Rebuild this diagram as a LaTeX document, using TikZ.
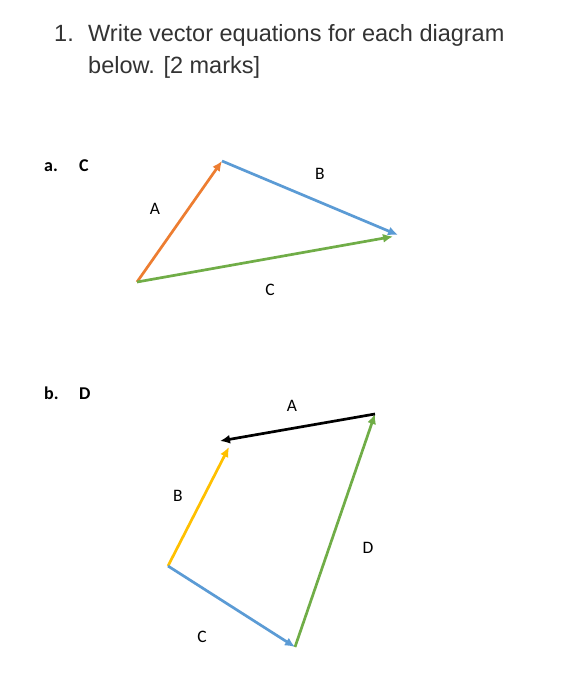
\documentclass[tikz,border=0pt]{standalone}
\usepackage{fontspec}
\setmainfont{Liberation Sans}
\newfontfamily\calib{Carlito}
\usetikzlibrary{arrows.meta}
\definecolor{vorange}{HTML}{ED7D31}
\definecolor{vblue}{HTML}{5B9BD5}
\definecolor{vgreen}{HTML}{70AD47}
\definecolor{vyellow}{HTML}{FFC000}
\definecolor{txtgray}{HTML}{333333}
\tikzset{
  vec/.style={line width=2.7pt,-{Latex[length=10pt,width=9pt]}},
  lbl/.style={font=\calib\fontsize{17.5}{20}\selectfont,inner sep=0pt},
  part/.style={font=\calib\bfseries\fontsize{18}{21}\selectfont,inner sep=0pt,anchor=base west},
  title/.style={font=\fontsize{23.5}{28}\selectfont,text=txtgray,inner sep=0pt,anchor=base west},
}
\begin{document}
\begin{tikzpicture}[x=1pt,y=-1pt]
\useasboundingbox (0,0) rectangle (575,700);
\fill[white] (0,0) rectangle (575,700);
% title
\node[title] (n1) at (54,42) {1.};
\node[title] (t1) at (88,42) {Write vector equations for each diagram};
\node[title] (t2) at (88,74) {below. [2 marks]};
% part a
\node[part] (pa) at (44,172) {a.};
\node[part] (pac) at (79,172) {C};
\coordinate (a0) at (137,282);
\coordinate (a1) at (222,161);
\coordinate (a2) at (398,235);
\draw[vec,vorange] (a0) -- (a1);
\draw[vec,vblue] (a1) -- (a2);
\draw[vec,vgreen] (a0) -- (393,236.5);
\node[lbl] (la) at (155,209) {A};
\node[lbl] (lb) at (320,174) {B};
\node[lbl] (lc) at (270,290) {C};
% part b
\node[part] (pb) at (44,399) {b.};
\node[part] (pbd) at (79,399) {D};
\coordinate (b0) at (168,566);
\coordinate (b1) at (229,447);
\coordinate (b2) at (295,647);
\coordinate (b3) at (375,414);
\coordinate (b4) at (220,441);
\draw[vec,vyellow] (b0) -- (b1);
\draw[vec,vblue] (b0) -- (b2);
\draw[vec,vgreen] (b2) -- (b3);
\draw[vec,black] (b3) -- (b4);
\node[lbl] (lA) at (292,406) {A};
\node[lbl] (lB) at (178,496) {B};
\node[lbl] (lD) at (368,548) {D};
\node[lbl] (lC) at (202,637) {C};
\end{tikzpicture}
\end{document}
